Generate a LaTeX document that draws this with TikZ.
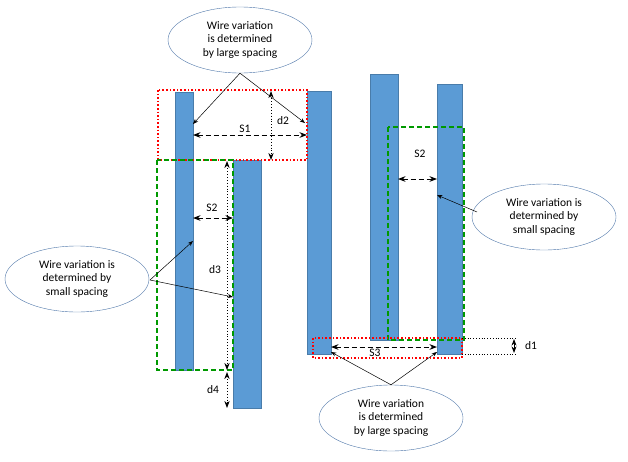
\documentclass[tikz,border=0pt]{standalone}
\usepackage{fontspec}
\setmainfont{Carlito}
\usetikzlibrary{shapes.geometric,arrows.meta}
\begin{document}
\begin{tikzpicture}[x=1pt,y=-1pt,
 red/.style={draw=red,line width=1.6pt,dotted},
 grn/.style={draw=green!60!black,line width=1.4pt,dash pattern=on 5pt off 3pt},
 ell/.style={ellipse,draw=ellc,fill=white,minimum width=144pt,minimum height=66pt,align=center,font=\fontsize{11.5}{13.5}\selectfont,inner sep=0pt},
 dim/.style={{Stealth}-{Stealth},line width=1pt,dash pattern=on 5pt off 3pt},
 dd/.style={{Stealth}-{Stealth},line width=0.9pt,dotted},
 pt/.style={-{Stealth},line width=0.5pt},
 lab/.style={font=\fontsize{11.5}{13.5}\selectfont}]
\definecolor{barc}{RGB}{91,155,213}
\definecolor{ellc}{RGB}{80,120,170}
\useasboundingbox (0,0) rectangle (628,461);
\fill[barc,draw=barc!80!black] (175,92) rectangle (193,370);
\fill[barc,draw=barc!80!black] (233,160) rectangle (261,408);
\fill[barc,draw=barc!80!black] (307,91) rectangle (331,354);
\fill[barc,draw=barc!80!black] (370,74) rectangle (398,340);
\fill[barc,draw=barc!80!black] (437,84) rectangle (462,354);
\draw[red] (158,90) rectangle (307,160);
\draw[grn] (157,160) rectangle (233,370);
\draw[grn] (388,127) rectangle (464,340);
\draw[red] (313,338) rectangle (462,358);
\node[ell] (t) at (240,40) {Wire variation\\is determined\\by large spacing};
\node[ell] (l) at (77,279) {Wire variation is\\determined by\\small spacing};
\node[ell] (r) at (544,217) {Wire variation is\\determined by\\small spacing};
\node[ell] (b) at (391,418) {Wire variation\\is determined\\by large spacing};
\coordinate (a1) at (193,124); \coordinate (a2) at (305,123);
\draw[pt] (t.south) -- (a1); \draw[pt] (t.south) -- (a2);
\coordinate (s1a) at (193,135); \coordinate (s1b) at (307,135);
\draw[dim] (s1a) -- (s1b); \node[lab] (s1) at (245,129) {S1};
\coordinate (d2a) at (271,91); \coordinate (d2b) at (271,160);
\draw[dd] (d2a) -- (d2b); \node[lab] (d2) at (283,121) {d2};
\coordinate (s2a) at (193,218); \coordinate (s2b) at (233,218);
\draw[dim] (s2a) -- (s2b); \node[lab] (s2) at (212,208) {S2};
\coordinate (d3a) at (227,161); \coordinate (d3b) at (227,370);
\draw[dd] (d3a) -- (d3b); \node[lab] (d3) at (215,270) {d3};
\coordinate (d4a) at (227,372); \coordinate (d4b) at (227,408);
\draw[dd] (d4a) -- (d4b); \node[lab] (d4) at (213,390) {d4};
\coordinate (l0) at (150,280); \coordinate (l1) at (193,241); \coordinate (l2) at (233,297);
\draw[pt] (l0) -- (l1); \draw[pt] (l0) -- (l2);
\coordinate (s4a) at (398,179); \coordinate (s4b) at (437,179);
\draw[dim] (s4a) -- (s4b); \node[lab] (s4) at (420,154) {S2};
\coordinate (r0) at (477,212); \coordinate (r1) at (437,195);
\draw[pt] (r0) -- (r1);
\coordinate (s3a) at (331,347); \coordinate (s3b) at (437,347);
\draw[dim] (s3a) -- (s3b); \node[lab] (s3) at (375,353) {S3};
\coordinate (b1) at (331,352); \coordinate (b2) at (437,352);
\draw[pt] (b.north) -- (b1); \draw[pt] (b.north) -- (b2);
\coordinate (e1) at (462,338); \coordinate (e2) at (516,338);
\coordinate (e3) at (462,354); \coordinate (e4) at (516,354);
\draw[dotted,line width=0.8pt] (e1) -- (e2) (e3) -- (e4);
\draw[{Stealth}-{Stealth},line width=0.8pt] (514,339) -- (514,353);
\node[lab] (d1) at (531,346) {d1};
\end{tikzpicture}
\end{document}
